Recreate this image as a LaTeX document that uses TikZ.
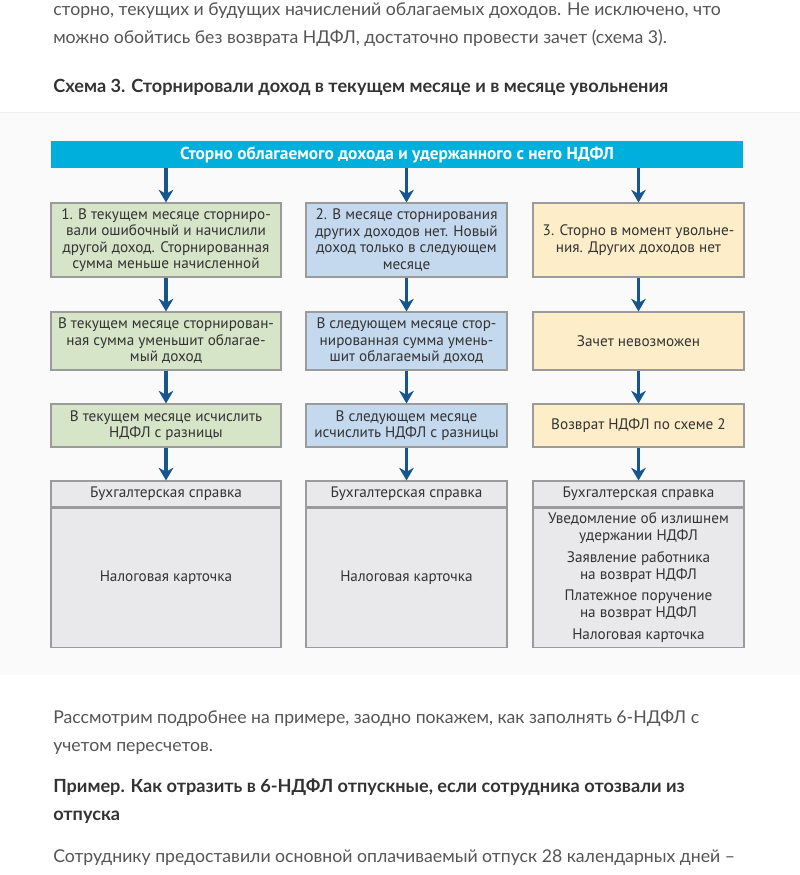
\documentclass[tikz,border=0pt]{standalone}
\usepackage{fontspec}
\setmainfont{Lato}
\newfontfamily\schemefont{PT Sans}
\usetikzlibrary{arrows.meta,positioning}
\definecolor{barCyan}{RGB}{0,175,219}
\definecolor{arrowBlue}{RGB}{22,86,140}
\definecolor{boxGreen}{RGB}{214,228,200}
\definecolor{boxBlue}{RGB}{196,216,238}
\definecolor{boxYellow}{RGB}{253,238,201}
\definecolor{docGray}{RGB}{233,233,235}
\definecolor{lineGray}{RGB}{155,155,155}
\definecolor{bodyText}{RGB}{85,85,85}
\definecolor{titleText}{RGB}{51,51,51}
\definecolor{panelGray}{RGB}{250,250,250}

\tikzset{
  schemebox/.style={draw=lineGray, line width=0.8pt, inner sep=0pt, align=center,
    text=black!80, font=\schemefont\fontsize{11.4}{12.4}\selectfont},
  greenbox/.style={schemebox, fill=boxGreen},
  bluebox/.style={schemebox, fill=boxBlue},
  yellowbox/.style={schemebox, fill=boxYellow},
  docbox/.style={schemebox, fill=docGray},
  arr/.style={arrowBlue, line width=2.3pt, -{Stealth[length=9.5pt,width=11pt,inset=3pt]}},
  webtext/.style={anchor=base west, inner sep=0pt, text=bodyText, font=\fontsize{13.25}{15}\selectfont},
  webtitle/.style={webtext, text=titleText, font=\bfseries\fontsize{13.6}{15}\selectfont},
}

\begin{document}
\begin{tikzpicture}[x=0.75pt, y=-0.75pt]
  \useasboundingbox (0,0) rectangle (800,875);
  \fill[white] (0,0) rectangle (800,875);
  % panel behind the scheme
  \fill[panelGray] (0,112) rectangle (800,675);
  \draw[black!6] (0,112) -- (800,112);

  % article text
  \node[webtext] (p1) at (53,15) {сторно, текущих и будущих начислений облагаемых доходов. Не исключено, что};
  \node[webtext] (p2) at (53,43) {можно обойтись без возврата НДФЛ, достаточно провести зачет (схема 3).};
  \node[webtitle] (t1) at (53,92) {Схема 3. Сторнировали доход в текущем месяце и в месяце увольнения};

  % header bar
  \node[fill=barCyan, minimum width=692*0.75pt, minimum height=27*0.75pt, inner sep=0pt,
    text=white, font=\schemefont\bfseries\fontsize{13}{14}\selectfont] (bar) at (397,154.5)
    {Сторно облагаемого дохода и удержанного с него НДФЛ};

  % column 1
  \node[greenbox, minimum width=230*0.75pt, minimum height=74*0.75pt] (a1) at (166,240)
    {1. В текущем месяце сторниро-\\вали ошибочный и начислили\\другой доход. Сторнированная\\сумма меньше начисленной};
  \node[greenbox, minimum width=230*0.75pt, minimum height=58*0.75pt] (a2) at (166,341)
    {В текущем месяце сторнирован-\\ная сумма уменьшит облагае-\\мый доход};
  \node[greenbox, minimum width=230*0.75pt, minimum height=43*0.75pt] (a3) at (166,425.5)
    {В текущем месяце исчислить\\НДФЛ с разницы};
  \node[docbox, minimum width=230*0.75pt, minimum height=26*0.75pt] (a4) at (166,494)
    {Бухгалтерская справка};
  \node[docbox, minimum width=230*0.75pt, minimum height=139*0.75pt, below=0pt of a4] (a5)
    {Налоговая карточка};

  % column 2
  \node[bluebox, minimum width=201*0.75pt, minimum height=74*0.75pt] (b1) at (406.5,240)
    {2. В месяце сторнирования\\других доходов нет. Новый\\доход только в следующем\\месяце};
  \node[bluebox, minimum width=201*0.75pt, minimum height=58*0.75pt] (b2) at (406.5,341)
    {В следующем месяце стор-\\нированная сумма умень-\\шит облагаемый доход};
  \node[bluebox, minimum width=201*0.75pt, minimum height=43*0.75pt] (b3) at (406.5,425.5)
    {В следующем месяце\\исчислить НДФЛ с разницы};
  \node[docbox, minimum width=201*0.75pt, minimum height=26*0.75pt] (b4) at (406.5,494)
    {Бухгалтерская справка};
  \node[docbox, minimum width=201*0.75pt, minimum height=139*0.75pt, below=0pt of b4] (b5)
    {Налоговая карточка};

  % column 3
  \node[yellowbox, minimum width=211*0.75pt, minimum height=74*0.75pt] (c1) at (638.5,240)
    {3. Сторно в момент увольне-\\ния. Других доходов нет};
  \node[yellowbox, minimum width=211*0.75pt, minimum height=58*0.75pt] (c2) at (638.5,341)
    {Зачет невозможен};
  \node[yellowbox, minimum width=211*0.75pt, minimum height=43*0.75pt] (c3) at (638.5,425.5)
    {Возврат НДФЛ по схеме 2};
  \node[docbox, minimum width=211*0.75pt, minimum height=26*0.75pt] (c4) at (638.5,494)
    {Бухгалтерская справка};
  \node[docbox, minimum width=211*0.75pt, minimum height=139*0.75pt, below=0pt of c4,
    font=\schemefont\fontsize{11.4}{12.7}\selectfont] (c5)
    {Уведомление об излишнем\\удержании НДФЛ\\[3.6pt]Заявление работника\\на возврат НДФЛ\\[3.6pt]Платежное поручение\\на возврат НДФЛ\\[3.6pt]Налоговая карточка};

  % arrows
  \foreach \col in {a,b,c} {
    \draw[arr] (\col1 |- bar.south) -- (\col1.north);
    \draw[arr] (\col1) -- (\col2);
    \draw[arr] (\col2) -- (\col3);
    \draw[arr] (\col3) -- (\col4);
  }

  % article text below
  \node[webtext] (p3) at (53,723) {Рассмотрим подробнее на примере, заодно покажем, как заполнять 6-НДФЛ с};
  \node[webtext] (p4) at (53,751) {учетом пересчетов.};
  \node[webtitle] (t2) at (53,792) {Пример. Как отразить в 6-НДФЛ отпускные, если сотрудника отозвали из};
  \node[webtitle] (t3) at (53,820) {отпуска};
  \node[webtext] (p5) at (53,862) {Сотруднику предоставили основной оплачиваемый отпуск 28 календарных дней –};
\end{tikzpicture}
\end{document}
